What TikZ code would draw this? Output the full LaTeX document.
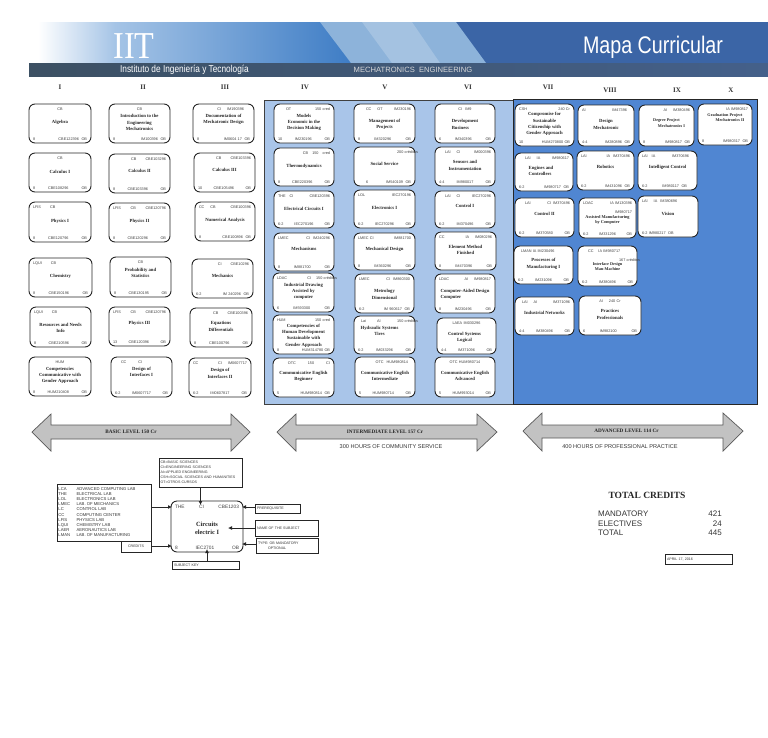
\documentclass[tikz,border=0pt]{standalone}
\usepackage{fontspec}
\setmainfont{Liberation Serif}
\setsansfont{Liberation Sans}
\usetikzlibrary{arrows.meta}

\definecolor{panelLight}{HTML}{A9C5E9}
\definecolor{panelDark}{HTML}{5086D2}
\definecolor{bannerMid}{HTML}{A5C4E6}
\definecolor{bannerBlue}{HTML}{3A7AC4}
\definecolor{bannerDark}{HTML}{3B65A6}
\definecolor{bannerPale}{HTML}{8DB3DA}
\definecolor{stripGrey}{HTML}{3C5063}
\definecolor{stripBlue}{HTML}{44608A}
\definecolor{arrowGrey}{HTML}{C2C2C2}

\tikzset{
  course/.style={draw=black!85, line width=0.9pt, rounded corners=6pt, fill=white, inner sep=0pt},
  toprow/.style={inner sep=0pt, anchor=north, font=\sffamily\fontsize{3.8}{4.4}\selectfont, text=black!75},
  botrow/.style={inner sep=0pt, anchor=south, font=\sffamily\fontsize{3.8}{4.4}\selectfont, text=black!75},
  subject/.style={inner sep=0pt, align=center, font=\rmfamily\bfseries\fontsize{4.7}{6.3}\selectfont, text=black!85},
  semester/.style={inner sep=0pt, font=\rmfamily\bfseries\fontsize{7}{8}\selectfont, text=black!80},
  levelarrow/.style={draw=black!65, fill=arrowGrey, line width=0.7pt},
  leveltext/.style={inner sep=0pt, font=\rmfamily\bfseries\fontsize{5.2}{6}\selectfont, text=black!85},
  hourstext/.style={inner sep=0pt, font=\sffamily\fontsize{5.6}{6}\selectfont, text=black!80},
  keybox/.style={draw=black!85, line width=0.8pt, inner sep=0pt, fill=white},
  keytext/.style={inner sep=0pt, font=\sffamily\fontsize{3.6}{5}\selectfont, text=black!80, align=left},
  total/.style={inner sep=0pt, font=\sffamily\fontsize{8}{9}\selectfont, text=black!80},
  keyarrow/.style={-{Latex[length=4pt,width=4pt]}, line width=0.8pt, black!85}
}

\newcommand{\midrow}[1]{\hfill #1\hfill\null}
\newcommand{\course}[9][]{%
  \pgfmathsetmacro\cw{#5-#3}%
  \pgfmathsetmacro\ch{#6-#4}%
  \node (#2) [course, minimum width=\cw pt, minimum height=\ch pt] at ({(#3+#5)/2},{(#4+#6)/2}) {};
  \node (#2top) [toprow, text width=\cw pt-8pt] at ([yshift=-4pt]#2.north) {#7};
  \node (#2name) [subject, #1] at ([yshift=1pt]#2.center) {#8};
  \node (#2bot) [botrow, text width=\cw pt-8pt] at ([yshift=2.5pt]#2.south) {#9};
}

\begin{document}
\begin{tikzpicture}[x=1pt,y=-1pt]
\useasboundingbox (0,0) rectangle (768,737);

\fill[left color=white, right color=bannerMid] (38,22) rectangle (115,63);
\fill[left color=bannerMid, right color=bannerBlue] (115,22) rectangle (360,63);
\fill[bannerDark] (360,22) rectangle (768,63);
\fill[bannerPale] (320,22) -- (456,22) -- (486,63) -- (351,63) -- cycle;
\fill[bannerPale!80!white] (362,22) -- (412,22) -- (440,63) -- (392,63) -- cycle;
\fill[left color=stripGrey, right color=stripBlue] (29,63) rectangle (768,76);
\node (iit) [inner sep=0pt, text=white, font=\rmfamily\fontsize{38}{38}\selectfont] at (134,46) {\scalebox{0.85}[1]{IIT}};
\node (iitname) [inner sep=0pt, text=white, font=\sffamily\fontsize{10}{10}\selectfont] at (184.5,70) {\scalebox{0.83}[1]{Instituto de Ingeniería y Tecnología}};
\node (career) [inner sep=0pt, text=white!85!black, font=\sffamily\fontsize{7.6}{8}\selectfont] at (413,70) {MECHATRONICS\ \ ENGINEERING};
\node (mapa) [inner sep=0pt, text=white, font=\sffamily\fontsize{24}{24}\selectfont] at (653,47) {\scalebox{0.82}[1]{Mapa Curricular}};

\node (semI) [semester] at (60,87) {I};
\node (semII) [semester] at (143,87) {II};
\node (semIII) [semester] at (225,87) {III};
\node (semIV) [semester] at (305,87) {IV};
\node (semV) [semester] at (385,87) {V};
\node (semVI) [semester] at (468,87) {VI};
\node (semVII) [semester] at (548,87) {VII};
\node (semVIII) [semester] at (610,90) {VIII};
\node (semIX) [semester] at (677,90) {IX};
\node (semX) [semester] at (731,90) {X};

\draw[fill=panelLight, draw=black!75, line width=0.9pt] (264,100) rectangle (513,404);
\draw[fill=panelDark, draw=black!85, line width=0.9pt] (513,99) rectangle (757,404);

\course{alg}{29}{104}{91}{143}{\midrow{CB}}{Algebra}{8\hfill CBE122396\ \ OB}
\course{calcI}{29}{153}{91}{192}{\midrow{CB}}{Calculus I}{8\hfill CBE108296\hfill OB}
\course{phyI}{29}{202}{91}{242}{LFIS\hspace{9pt}CB\hfill\null}{Physics I}{8\hfill CBE120796\hfill OB}
\course{chem}{29}{258}{92}{297}{LQUI\hspace{9pt}CB\hfill\null}{Chemistry}{8\hfill CBE150196\hfill OB}
\course[yshift=-2pt]{resou}{30}{307}{91}{347}{LQUI\hspace{9pt}CB\hfill\null}{Resources and Needs\\Info}{8\hfill CBE210596\hfill OB}
\course{hum}{29}{357}{91}{396}{\midrow{HUM}}{Competencies\\Communicative with\\Gender Approach}{8\hfill HUM210408\hfill OB}

\course{intro}{109}{104}{170}{143}{\midrow{CB}}{Introduction to the\\Engineering\\Mechatronics}{8\hfill IM100396\ \ OB}
\course[yshift=1.5pt]{calcII}{109}{154}{170}{193}{\hfill CB\hspace{9pt}CBE103296}{Calculus II}{8\hfill CBE103396\hfill OB}
\course{phyII}{109}{203}{170}{242}{LFIS\hfill CB\hfill CBE120796}{Physics II}{8\hfill CBE120296\hfill OB}
\course[yshift=3pt]{prob}{110}{257}{171}{297}{\midrow{CB}}{Probability and\\Statistics}{8\hfill CBE130195\hfill OB}
\course[yshift=2.5pt]{phyIII}{109}{307}{170}{346}{LFIS\hfill CB\hfill CBE120796}{Physics III}{13\hfill CBE120396\hfill OB}
\course[yshift=4pt]{desI}{111}{357}{172}{397}{\hspace{6pt}CC\hspace{12pt}CI\hfill\null}{Design of\\Interfaces I}{6-2\hfill IM0607717\hfill OB}

\course[yshift=3pt]{doc}{193}{104}{254}{143}{\hfill CI\hspace{6pt}IM190396\hspace{6pt}\null}{Documentation of\\Mechatronic Design}{8\hfill IM0604 17\ \ OB}
\course[yshift=2pt]{calcIII}{194}{153}{255}{192}{\hfill CB\hspace{9pt}CBE103396}{Calculus III}{10\hfill CBE105496\hfill OB}
\course{numer}{195}{202}{255}{241}{CC\hspace{6pt}CB\hfill CBE100396}{Numerical Analysis}{8\hfill CBE100896\ \ OB}
\course[yshift=1.5pt]{mechs}{192}{259}{253}{298}{\hfill CI\hspace{9pt}CBE10296}{Mechanics}{6-2\hfill IM 240296\ \ OB}
\course{equa}{190}{308}{252}{347}{\hfill CB\hspace{9pt}CBE100396}{Equations\\Differentials}{8\hfill CBE100796\hfill OB}
\course[yshift=3pt]{desII}{189}{358}{251}{397}{CC\hfill CI\hspace{6pt}IM0607717}{Design of\\Interfaces II}{6-2\hfill IM0607817\hfill OB}

\course{model}{274}{104}{334}{143}{\hspace{8pt}OT\hfill 150 cred}{Models\\Economic in the\\Decision Making}{10\hfill IM230196\hfill OB}
\course{thermo}{274}{148}{334}{186}{\hfill CB\hspace{4pt}150\hspace{4pt}cred}{Thermodynamics}{8\hfill CBE220396\hfill OB}
\course{elec}{274}{191}{334}{228}{THE\hspace{4pt}CI\hfill CBE120396}{Electrical Circuits I}{6-2\hfill IEC270196\hfill OB}
\course[yshift=2pt]{mechan}{274}{233}{334}{271}{LMEC\hfill CI\hspace{3pt}IM240296}{Mechanisms}{8\hfill IM881700\hfill OB}
\course{draw}{273}{273}{334}{312}{LDAC\hfill CI\hspace{5pt}150 créditos\hspace{-7pt}\null}{Industrial Drawing\\Assisted by\\computer}{6\hfill IM593300\hfill OB}
\course[yshift=-2pt]{sust}{273}{315}{334}{354}{HUM\hfill 150 cred}{Competencies of\\Human Development\\Sustainable with\\Gender Approach}{8\hfill HUM314780\ OB}
\course{engA}{273}{358}{334}{397}{\hfill OTC\hspace{12pt}150\hspace{12pt}CI}{Communicative English\\Beginner}{5\hfill HUM980814\ \ OB}

\course[yshift=-2pt]{manage}{354}{104}{415}{143}{\hspace{8pt}CC\hspace{6pt}OT\hfill IM230196}{Management of\\Projects}{8\hfill IM320296\hfill OB}
\course[yshift=1.5pt]{social}{354}{147}{415}{186}{\hfill 200 créditos\hspace{-7pt}\null}{Social Service}{\hspace{8pt}6\hfill IM540109\ \ OB}
\course{eleco}{354}{190}{415}{228}{LOL\hfill IEC270196}{Electronics I}{6-2\hfill IEC270296\hfill OB}
\course[yshift=1.5pt]{mdes}{354}{233}{415}{270}{LMEC\ CI\hfill IM881700}{Mechanical Design}{8\hfill IM360296\hfill OB}
\course[yshift=-2pt]{metro}{355}{274}{414}{313}{LMEC\hfill CI\hspace{3pt}IM860300}{Metrology\\Dimensional}{6-2\hfill IM 960617\ \ OB}
\course[yshift=3pt,xshift=-5pt]{hydra}{354}{316}{415}{354}{\hspace{3pt}Lai\hspace{11pt}AI\hfill 150 créditos\hspace{-7pt}\null}{Hydraulic Systems\\Tires}{6-2\hfill IM033296\hfill OB}
\course{engB}{355}{357}{415}{397}{\hfill OTC\hspace{3pt}HUM980814\hspace{3pt}\null}{Communicative English\\Intermediate}{5\hfill HUM980714\hfill OB}

\course[yshift=-2pt,align=left]{busin}{435}{104}{495}{143}{\midrow{CI\hspace{3pt}IM9}}{Development\\Business}{6\hfill IM340396\hfill OB}
\course{sensor}{435}{147}{495}{186}{\hspace{6pt}LAI\hspace{6pt}CI\hfill IM000396}{Sensors and\\Instrumentation}{4-4\hfill IM980017\hfill OB}
\course[yshift=2.5pt]{ctrlI}{435}{191}{495}{228}{\hspace{6pt}LAI\hspace{6pt}CI\hfill IEC270296}{Control I}{6-2\hfill IM370496\hfill OB}
\course{fem}{435}{232}{496}{270}{CC\hfill IA\hspace{6pt}IM080296}{Element Method\\Finished}{8\hfill IM470396\hfill OB}
\course[yshift=-2pt,align=left]{cad}{435}{274}{495}{313}{LDAC\hfill AI\hspace{6pt}IM980817}{Computer-Aided Design\\Computer}{8\hfill IM230496\hfill OB}
\course[yshift=-2.5pt,xshift=-2pt]{logic}{437}{318}{496}{354}{\midrow{LAEA\ IM030296}}{Control Systems\\Logical}{4-4\hfill IM371096\hfill OB}
\course{engC}{435}{357}{495}{397}{\midrow{OTC\ HUM980714}}{Communicative English\\Advanced}{5\hfill HUM993014\hfill OB}

\course{citiz}{515}{104}{574}{146}{CSH\hfill 240 Cr}{Compromise for\\Sustainable\\Citizenship with\\Gender Approach}{10\hfill HUM270800\ OB}
\course[align=left,xshift=-3pt]{engin}{515}{153}{573}{191}{\hspace{6pt}LAI\hspace{6pt}IA\hfill IM980617}{Engines and\\Controllers}{6-2\hfill IM980717\ \ OB}
\course[yshift=2.5pt]{ctrlII}{515}{198}{574}{237}{\hspace{6pt}LAI\hfill CI\hspace{2pt}IM370496}{Control II}{6-2\hfill IM370580\hfill OB}
\course{process}{514}{246}{573}{284}{\hspace{3pt}LMAN\ IA\ IM230496}{Processes of\\Manufacturing I}{6-2\hfill IM231096\hfill OB}
\course[yshift=2pt]{netw}{515}{297}{574}{335}{\hspace{3pt}LAI\hspace{6pt}AI\hfill IM371096}{Industrial Networks}{4-4\hfill IM380496\hfill OB}

\course{desM}{578}{105}{634}{146}{AI\hfill IM47396\hspace{3pt}\null}{Design\\Mechatronic}{4-4\hfill IM280896\ \ OB}
\course[yshift=2.5pt]{robot}{577}{151}{634}{190}{LAI\hfill IA\hspace{3pt}IM370496}{Robotics}{6-2\hfill IM431096\ \ OB}
\course[yshift=-3pt,font=\rmfamily\bfseries\fontsize{4.3}{5.4}\selectfont]{assist}{579}{198}{636}{238}{LOAC\hfill IA\ IM130396\\\null\hfill IM980717}{Assisted Manufacturing\\by Computer}{6-2\hfill IM331296\hfill OB}
\course[yshift=-2pt,font=\rmfamily\bfseries\fontsize{4.2}{5}\selectfont]{iface}{578}{246}{637}{286}{\hspace{6pt}CC\hspace{5pt}IA\ IM980717\\\null\hfill 167 créditos\hspace{-7pt}\null}{Interface Design\\Man-Machine}{6-2\hfill IM380496\hfill OB}
\course{pract}{579}{296}{641}{335}{\midrow{AI\hspace{6pt}240 Cr}}{Practices\\Professionals}{6\hfill IM982100\hfill OB}

\course[yshift=1.5pt,font=\rmfamily\bfseries\fontsize{4.2}{5.4}\selectfont]{projI}{639}{105}{694}{146}{\hfill AI\hspace{6pt}IM380496}{Degree Project\\\hspace{10pt}Mechatronics I}{8\hfill IM980817\ \ OB}
\course[yshift=2.5pt]{intel}{638}{151}{697}{190}{LAI\hspace{4pt}IA\hfill IM370696\hspace{4pt}\null}{Intelligent Control}{6-2\hfill IM980117\ \ OB\hspace{6pt}\null}
\course[yshift=1.5pt]{vision}{638}{196}{698}{237}{LAI\hspace{6pt}IA\hspace{3pt}IM380696\hfill\null}{Vision}{6-2\ IM980217\ \ OB\hfill\null}
\course[yshift=6pt,font=\rmfamily\bfseries\fontsize{4.2}{5.4}\selectfont]{projII}{698}{104}{752}{145}{\hfill IA IM980817}{Graduation Project\\\hspace{10pt}Mechatronics II}{8\hfill IM980317\ \ OB}

\draw[levelarrow] (32,432) -- (51,414) -- (51,425) -- (231,425) -- (231,414) -- (250,432) -- (231,451) -- (231,439) -- (51,439) -- (51,451) -- cycle;
\draw[levelarrow] (277,432) -- (296,414) -- (296,425) -- (477,425) -- (477,414) -- (497,432) -- (477,451) -- (477,439) -- (296,439) -- (296,451) -- cycle;
\draw[levelarrow] (523,431) -- (542,413) -- (542,425) -- (723,425) -- (723,413) -- (743,431) -- (723,451) -- (723,438) -- (542,438) -- (542,451) -- cycle;
\node (basic) [leveltext] at (131,432) {BASIC LEVEL 150 Cr};
\node (inter) [leveltext] at (385,432) {INTERMEDIATE LEVEL 157 Cr};
\node (commun) [hourstext] at (391,447) {300 HOURS OF COMMUNITY SERVICE};
\node (advan) [leveltext] at (626.5,431) {ADVANCED LEVEL 114 Cr};
\node (profes) [hourstext] at (620,447) {400 HOURS OF PROFESSIONAL PRACTICE};

\begin{scope}[toprow/.append style={font=\sffamily\fontsize{4.8}{5.4}\selectfont},
  botrow/.append style={font=\sffamily\fontsize{4.8}{5.4}\selectfont},
  subject/.append style={font=\rmfamily\bfseries\fontsize{6.4}{8}\selectfont}]
\course[yshift=-2.5pt]{circ}{171}{501}{243}{552}{THE\hfill CI\hfill CBE1203}{Circuits\\electric I}{8\hfill IEC2701\hfill OB}
\end{scope}

\node (areas) [keybox, minimum width=83pt, minimum height=29pt, text width=80pt, keytext] at (200.5,472.5) {CB=BASIC SCIENCES\\CI=ENGINEERING SCIENCES\\AI=APPLIED ENGINEERING\\CSH=SOCIAL SCIENCES AND HUMANITIES\\OT=OTROS CURSOS};
\node (labs) [keybox, minimum width=94pt, minimum height=57pt, keytext, font=\sffamily\fontsize{4.2}{5.2}\selectfont] at (104,512.5) {\begin{tabular}{@{}p{17pt}@{\ }p{73pt}@{}}LCA&ADVANCED COMPUTING LAB\\THE&ELECTRICAL LAB\\LOL&ELECTRONICS LAB\\LMEC&LAB. OF MECHANICS\\LC&CONTROL LAB\\CC&COMPUTING CENTER\\LFIS&PHYSICS LAB\\LQUI&CHEMISTRY LAB\\LAER&AERONAUTICS LAB\\LMAN&LAB. OF MANUFACTURING\end{tabular}};
\node (credits) [keybox, minimum width=30pt, minimum height=11pt, keytext] at (136,546.5) {CREDITS};
\node (prereq) [keybox, minimum width=45pt, minimum height=9pt, keytext, text width=41pt] at (277.5,508.5) {PREREQUISITE};
\node (subjname) [keybox, minimum width=63pt, minimum height=16pt, keytext, text width=59pt] at (286.5,528) {NAME OF THE SUBJECT};
\node (kind) [keybox, minimum width=62pt, minimum height=15pt, keytext, text width=58pt] at (287,545.5) {TYPE: OB MANDATORY\\\hspace{10pt}OPTIONAL};
\node (subjkey) [keybox, minimum width=67pt, minimum height=8pt, keytext, text width=63pt] at (205.5,565) {SUBJECT KEY};

\coordinate (circthe) at (172,507);
\coordinate (circcre) at (172,546);
\coordinate (circpre) at (242,507);
\coordinate (circnam) at (228,528);
\coordinate (circtyp) at (242,544);
\coordinate (circci) at (200.5,505);
\coordinate (circkey) at (207,549);

\draw[keyarrow] (areas.south) -- (circci);
\draw[keyarrow] (labs.east |- circthe) -- (circthe);
\draw[keyarrow] (credits.east |- circcre) -- (circcre);
\draw[keyarrow] (prereq.west |- circpre) -- (circpre);
\draw[keyarrow] (subjname.west) -- (circnam);
\draw[keyarrow] (kind.west |- circtyp) -- (circtyp);
\draw[keyarrow] (subjkey.north -| circkey) -- (circkey);

\node (totals) [inner sep=0pt, font=\rmfamily\bfseries\fontsize{9.5}{10}\selectfont, text=black!85] at (647,495) {TOTAL CREDITS};
\node (mand) [total, anchor=west] at (598,514) {MANDATORY};
\node (elect) [total, anchor=west] at (598,524) {ELECTIVES};
\node (tot) [total, anchor=west] at (598,533) {TOTAL};
\node (mandv) [total, anchor=east] at (722,514) {421};
\node (electv) [total, anchor=east] at (722,524) {24};
\node (totv) [total, anchor=east] at (722,533) {445};

\node (date) [keybox, minimum width=67pt, minimum height=10pt, keytext, text width=63pt] at (698.5,559) {APRIL 17, 2016};
\end{tikzpicture}
\end{document}
